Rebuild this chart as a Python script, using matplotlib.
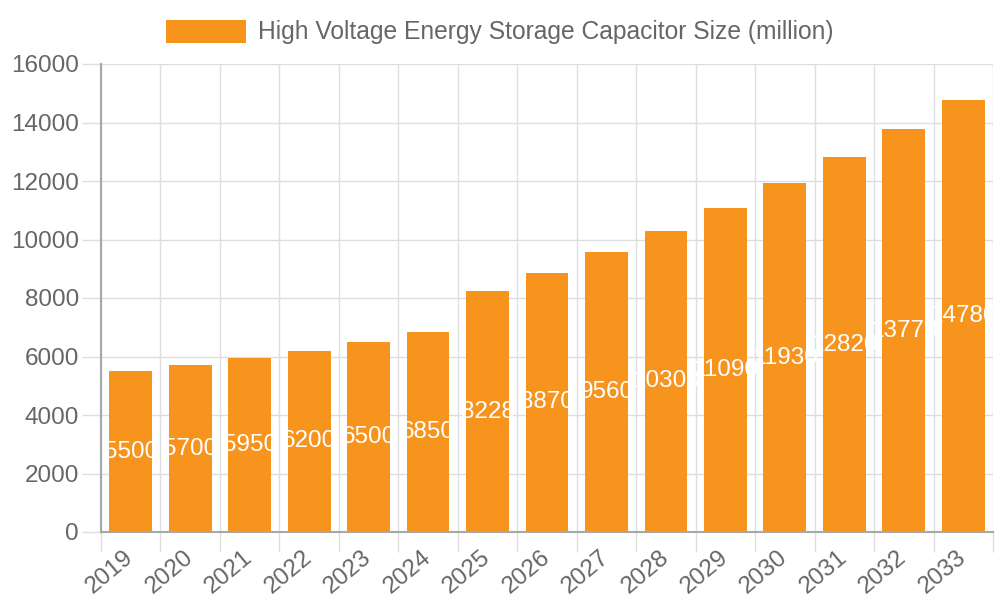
import matplotlib
matplotlib.use("Agg")
import matplotlib.pyplot as plt
from matplotlib.patches import Rectangle
from matplotlib.ticker import FixedLocator, MultipleLocator

plt.rcParams['font.family'] = ['Liberation Sans', 'DejaVu Sans']

years = ['2019', '2020', '2021', '2022', '2023', '2024', '2025', '2026',
         '2027', '2028', '2029', '2030', '2031', '2032', '2033']
values = [5500, 5700, 5950, 6200, 6500, 6850, 8228, 8870,
          9560, 10300, 11090, 11930, 12820, 13770, 14780]
series_name = 'High Voltage Energy Storage Capacitor Size (million)'

bar_color = '#f7941e'
text_gray = '#666666'
grid_gray = '#dedede'
axis_gray = '#a8a8a8'
fs = 17.5

fig = plt.figure(figsize=(10, 6), dpi=100)
ax = fig.add_axes([101/1000, (600-532)/600, 892/1000, 468/600])

x = list(range(len(years)))
bars = ax.bar(x, values, width=0.72, color=bar_color, zorder=3)

for xi, v in zip(x, values):
    ax.text(xi, v/2, str(v), color='white', fontsize=fs,
            ha='center', va='center', zorder=4, clip_on=False)

ax.set_xlim(-0.5, len(years) - 0.5)
ax.set_ylim(0, 16000)
ax.yaxis.set_major_locator(MultipleLocator(2000))

ax.set_xticks(x)
ax.set_xticklabels(years, rotation=40, ha='right', va='center',
                   rotation_mode='anchor', color=text_gray, fontsize=fs)
ax.xaxis.set_minor_locator(FixedLocator([i - 0.5 for i in range(len(years) + 1)]))
ax.tick_params(axis='x', which='major', length=0, pad=16)
ax.tick_params(axis='x', which='minor', length=14.5, color=grid_gray, width=1)
ax.tick_params(axis='y', which='major', length=14, color=grid_gray, width=1,
               labelsize=fs, labelcolor=text_gray, pad=2)

ax.grid(True, axis='y', which='major', color=grid_gray, linewidth=1, zorder=0)
ax.grid(True, axis='x', which='minor', color=grid_gray, linewidth=1, zorder=0)
ax.set_axisbelow(True)

for s in ['top', 'right']:
    ax.spines[s].set_visible(False)
for s in ['left', 'bottom']:
    ax.spines[s].set_color(axis_gray)
    ax.spines[s].set_linewidth(1.5)
    ax.spines[s].set_zorder(5)

fig.patches.append(Rectangle((166/1000, 1 - 43/600), 80/1000, 23/600,
                             transform=fig.transFigure, facecolor=bar_color,
                             edgecolor='none'))
fig.text(258/1000, 1 - 32/600, series_name, color=text_gray, fontsize=17.7,
         ha='left', va='center')

fig.savefig('out.png', dpi=100)
